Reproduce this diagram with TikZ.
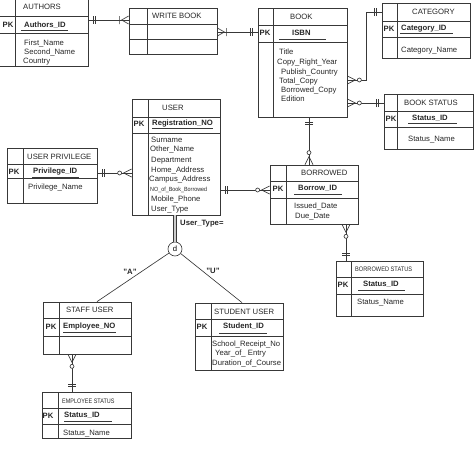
\documentclass[tikz,border=0pt]{standalone}
\usepackage{fontspec}
\setmainfont{Liberation Sans}
\usepackage{graphicx}
\usetikzlibrary{fit}
\definecolor{lc}{gray}{0.22}
\tikzset{
 x=1pt,y=-1pt,
 box/.style={draw=lc, line width=0.75pt, inner sep=0pt},
 gridl/.style={draw=lc, line width=0.75pt},
 conn/.style={draw=lc, line width=0.65pt},
 txt/.style={anchor=base west, yshift=-2.8pt, inner sep=0pt, font=\fontsize{7.7}{9}\selectfont, text=black!85},
 bld/.style={txt, font=\fontsize{7.7}{9}\selectfont\bfseries},
 pk/.style={anchor=base, yshift=-2.8pt, inner sep=0pt, font=\fontsize{7.7}{9}\selectfont\bfseries, text=black!85},
 ul/.style={draw=lc, line width=0.65pt},
 twobar/.pic={\draw[conn] (5,-4) -- (5,4) (7,-4) -- (7,4);},
 zeromany/.pic={\draw[conn] (0,-4) -- (8,0) -- (0,4); \draw[conn, fill=white] (12,0) circle (2pt);},
 onemany/.pic={\draw[conn] (0,-4) -- (7,0) -- (0,4) (9,-4) -- (9,4);}
}
\newcommand\ertab[8]{%
 \path (#2,#3) coordinate (#1nw) (#4,#5) coordinate (#1se);
 \node[box, fit=(#1nw)(#1se)] (#1) {};
 \draw[gridl] (#6,#3) -- (#6,#5) (#2,#7) -- (#4,#7) (#2,#8) -- (#4,#8);
}
\newcommand\cond[2]{\scalebox{#1}[1]{#2}}
\begin{document}
\begin{tikzpicture}
\useasboundingbox (0,0) rectangle (474,448);
\clip (0,0) rectangle (474,448);
% tables
\ertab{authors}{-3}{-3}{88}{66}{15}{16}{33}
\ertab{wb}{129}{8}{217}{54}{147}{24}{39}
\ertab{book}{258}{8}{347}{117}{273}{25}{42}
\ertab{cat}{382}{3}{470}{58}{397}{21}{37}
\ertab{bst}{384}{94}{473}{149}{397}{111}{127}
\ertab{user}{132}{99}{220}{215}{148}{117}{133}
\ertab{up}{7}{148}{97}{203}{23}{164}{178}
\ertab{bor}{270}{165}{358}{224}{286}{181}{198}
\ertab{bs}{336}{261}{423}{316}{351}{277}{294}
\ertab{staff}{43}{302}{131}{354}{59}{318}{336}
\ertab{es}{42}{392}{131}{438}{58}{408}{424}
\ertab{stu}{195}{303}{283}{370}{211}{319}{336}
% AUTHORS
\node[txt] (au-t) at (23,7) {AUTHORS};
\node[pk] (au-pk) at (8,25) {PK};
\node[bld] (au-k) at (24,25) {Authors\_ID};
\draw[ul] (21,30) -- (68,30);
\node[txt] (au-a1) at (24,43) {First\_Name};
\node[txt] (au-a2) at (24,52) {Second\_Name};
\node[txt] (au-a3) at (23,61) {Country};
% WRITE BOOK
\node[txt] (wb-t) at (152,16) {WRITE BOOK};
% BOOK
\node[txt] (bk-t) at (290,17) {BOOK};
\node[pk] (bk-pk) at (265,33) {PK};
\node[bld] (bk-k) at (292,33) {ISBN};
\draw[ul] (279,39) -- (326,39);
\node[txt] (bk-a1) at (279,52) {Title};
\node[txt] (bk-a2) at (277,62) {Copy\_Right\_Year};
\node[txt] (bk-a3) at (281,72) {Publish\_Country};
\node[txt] (bk-a4) at (279,81) {Total\_Copy};
\node[txt] (bk-a5) at (281,90) {Borrowed\_Copy};
\node[txt] (bk-a6) at (281,99) {Edition};
% CATEGORY
\node[txt] (ca-t) at (412,12) {CATEGORY};
\node[pk] (ca-pk) at (389,29) {PK};
\node[bld] (ca-k) at (401,28) {Category\_ID};
\draw[ul] (400,33) -- (453,33);
\node[txt] (ca-a1) at (401,50) {Category\_Name};
% BOOK STATUS
\node[txt] (bst-t) at (404,103) {BOOK STATUS};
\node[pk] (bst-pk) at (391,119) {PK};
\node[bld] (bst-k) at (412,118) {Status\_ID};
\draw[ul] (408,123) -- (457,123);
\node[txt] (bst-a1) at (408,139) {Status\_Name};
% USER
\node[txt] (us-t) at (162,108) {USER};
\node[pk] (us-pk) at (139,124) {PK};
\node[bld] (us-k) at (152,123) {Registration\_NO};
\draw[ul] (152,128) -- (213,128);
\node[txt] (us-a1) at (151,140) {Surname};
\node[txt] (us-a2) at (150,149) {Other\_Name};
\node[txt] (us-a3) at (151,160) {Department};
\node[txt] (us-a4) at (151,170) {Home\_Address};
\node[txt] (us-a5) at (149,179) {Campus\_Address};
\node[txt, font=\fontsize{6}{7}\selectfont] (us-a6) at (150,189) {\cond{0.9}{NO\_of\_Book\_Borrowed}};
\node[txt] (us-a7) at (151,199) {Mobile\_Phone};
\node[txt] (us-a8) at (151,209) {User\_Type};
% USER PRIVILEGE
\node[txt] (up-t) at (27,157) {USER PRIVILEGE};
\node[pk] (up-pk) at (14,172) {PK};
\node[bld] (up-k) at (33,171) {Privilege\_ID};
\draw[ul] (32,177) -- (79,177);
\node[txt] (up-a1) at (28,187) {Privilege\_Name};
% BORROWED
\node[txt] (bo-t) at (301,173) {BORROWED};
\node[pk] (bo-pk) at (278,189) {PK};
\node[bld] (bo-k) at (298,188) {Borrow\_ID};
\draw[ul] (294,194) -- (342,194);
\node[txt] (bo-a1) at (294,206) {Issued\_Date};
\node[txt] (bo-a2) at (295,216) {Due\_Date};
% BORROWED STATUS
\node[txt, font=\fontsize{6.5}{8}\selectfont] (bs-t) at (355,269) {\cond{0.87}{BORROWED STATUS}};
\node[pk] (bs-pk) at (343,285) {PK};
\node[bld] (bs-k) at (363,284) {Status\_ID};
\draw[ul] (358,290) -- (405,290);
\node[txt] (bs-a1) at (357,302) {Status\_Name};
% STAFF USER
\node[txt] (st-t) at (66,310) {STAFF USER};
\node[pk] (st-pk) at (51,327) {PK};
\node[bld] (st-k) at (63,326) {Employee\_NO};
\draw[ul] (63,332) -- (116,332);
% EMPLOYEE STATUS
\node[txt, font=\fontsize{6.5}{8}\selectfont] (es-t) at (62,401) {\cond{0.84}{EMPLOYEE STATUS}};
\node[pk] (es-pk) at (48,416) {PK};
\node[bld] (es-k) at (64,415) {Status\_ID};
\draw[ul] (64,421) -- (112,421);
\node[txt] (es-a1) at (63,433) {Status\_Name};
% STUDENT USER
\node[txt] (su-t) at (214,312) {STUDENT USER};
\node[pk] (su-pk) at (202,327) {PK};
\node[bld] (su-k) at (223,326) {Student\_ID};
\draw[ul] (219,333) -- (267,333);
\node[txt] (su-a1) at (212,344) {School\_Receipt\_No};
\node[txt] (su-a2) at (215,353) {Year\_of\_ Entry};
\node[txt] (su-a3) at (212,363) {Duration\_of\_Course};
% specialisation
\node[draw=lc, line width=0.65pt, circle, minimum size=14pt, inner sep=0pt, fill=white, font=\fontsize{7.7}{9}\selectfont] (d) at (175,249) {d};
\node[bld] (utype) at (180,223) {User\_Type=};
\node[pk, anchor=base] (lblA) at (130,272) {"A"};
\node[pk, anchor=base] (lblU) at (213,271) {"U"};
\draw[conn, double=gray!40, double distance=2.2pt] (user.south -| d.north) -- (d.north);
\draw[conn] (d) -- (staff.north -| 97,0);
\draw[conn] (d) -- (stu.north -| 242,0);
% connectors
\draw[conn] (authors.east |- 0,20) -- (wb.west |- 0,20);
\pic at (authors.east |- 0,20) {twobar};
\pic[rotate=180] at (wb.west |- 0,20) {onemany};
\draw[conn] (wb.east |- 0,32) -- (book.west |- 0,32);
\pic at (wb.east |- 0,32) {onemany};
\pic[rotate=180] at (book.west |- 0,32) {twobar};
\draw[conn] (book.east |- 0,80) -- (366,80) -- (366,12) -- (cat.west |- 0,12);
\pic at (book.east |- 0,80) {zeromany};
\pic[rotate=180] at (cat.west |- 0,12) {twobar};
\draw[conn] (book.east |- 0,103) -- (bst.west |- 0,103);
\pic at (book.east |- 0,103) {zeromany};
\pic[rotate=180] at (bst.west |- 0,103) {twobar};
\draw[conn] (book.south -| 309,0) -- (bor.north -| 309,0);
\pic[rotate=-90] at (book.south -| 309,0) {twobar};
\pic[rotate=90] at (bor.north -| 309,0) {zeromany};
\draw[conn] (user.east |- 0,190) -- (bor.west |- 0,190);
\pic at (user.east |- 0,190) {twobar};
\pic[rotate=180] at (bor.west |- 0,190) {zeromany};
\draw[conn] (bor.south -| 346,0) -- (bs.north -| 346,0);
\pic[rotate=-90] at (bor.south -| 346,0) {zeromany};
\pic[rotate=90] at (bs.north -| 346,0) {twobar};
\draw[conn] (up.east |- 0,173) -- (user.west |- 0,173);
\pic at (up.east |- 0,173) {twobar};
\pic[rotate=180] at (user.west |- 0,173) {zeromany};
\draw[conn] (staff.south -| 72,0) -- (es.north -| 72,0);
\pic[rotate=-90] at (staff.south -| 72,0) {zeromany};
\pic[rotate=90] at (es.north -| 72,0) {twobar};
\end{tikzpicture}
\end{document}
